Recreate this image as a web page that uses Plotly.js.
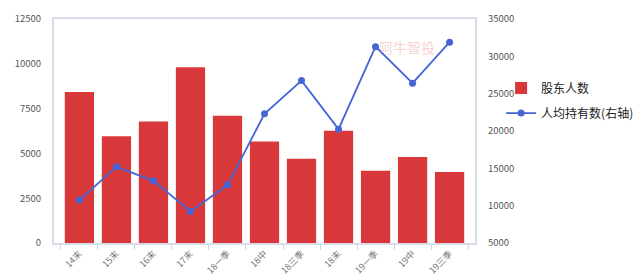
<!DOCTYPE html>
<html>
<head>
<meta charset="utf-8">
<script src="https://cdn.plot.ly/plotly-3.0.1.min.js"></script>
<style>html,body{margin:0;padding:0;background:#fff;}#chart{width:640px;height:278px;}</style>
</head>
<body>
<div id="chart"></div>
<script>
const categories = ["14末","15末","16末","17末","18一季","18中","18三季","18末","19一季","19中","19三季"];
const shareholders = [8420, 5960, 6780, 9810, 7100, 5670, 4700, 6260, 4030, 4800, 3960];
const perHolding = [10750, 15200, 13330, 9230, 12760, 22300, 26750, 20250, 31300, 26400, 31900];
const leftTicks = [0, 2500, 5000, 7500, 10000, 12500];
const rightTicks = [5000, 10000, 15000, 20000, 25000, 30000, 35000];

const traces = [
  {
    type: "bar", name: "股东人数", x: categories, y: shareholders,
    marker: {color: "#d9383a"}, yaxis: "y", legend: "legend"
  },
  {
    type: "scatter", mode: "lines+markers", name: "人均持有数(右轴)", x: categories, y: perHolding,
    line: {color: "#4466d6", width: 1.8}, marker: {color: "#4466d6", size: 7}, yaxis: "y2", legend: "legend2"
  }
];

const legendBase = {xanchor: "left", yanchor: "middle", font: {size: 12, color: "#222"}, bgcolor: "rgba(0,0,0,0)"};

const layout = {
  width: 640, height: 278,
  margin: {l: 54, r: 165, t: 19, b: 35, autoexpand: false},
  paper_bgcolor: "#ffffff", plot_bgcolor: "#ffffff",
  font: {family: "Noto Sans CJK SC, Noto Sans, sans-serif", color: "#555"},
  bargap: 0.21,
  showlegend: true,
  legend: Object.assign({x: 1.062, y: 0.692}, legendBase),
  legend2: Object.assign({x: 1.062, y: 0.58}, legendBase),
  xaxis: {
    type: "category", tickangle: -45, tickfont: {size: 9, color: "#777"},
    showline: true, linecolor: "#d6dde6", linewidth: 2, mirror: true,
    ticks: "outside", tickson: "boundaries", ticklen: 5, tickcolor: "#c9d6e6",
    showgrid: false, zeroline: false, automargin: false
  },
  yaxis: {
    range: [0, 12500], tickvals: leftTicks, ticktext: leftTicks.map(String),
    tickfont: {size: 9.5, color: "#555"}, showgrid: false, zeroline: false,
    showline: true, linecolor: "#d6dde6", linewidth: 2, ticks: "", ticklabelstandoff: 9, automargin: false
  },
  yaxis2: {
    overlaying: "y", side: "right", range: [5000, 35000],
    tickvals: rightTicks, ticktext: rightTicks.map(String),
    tickfont: {size: 9.5, color: "#555"}, showgrid: false, zeroline: false,
    showline: true, linecolor: "#d6dde6", linewidth: 2, ticks: "", ticklabelstandoff: 9, automargin: false
  },
  annotations: [
    {text: "阿牛智投", xref: "paper", yref: "paper", x: 0.91, y: 0.93, showarrow: false,
     font: {size: 14, color: "rgba(235,120,120,0.35)"}}
  ]
};

Plotly.newPlot("chart", traces, layout, {displayModeBar: false, staticPlot: true});
</script>
</body>
</html>
